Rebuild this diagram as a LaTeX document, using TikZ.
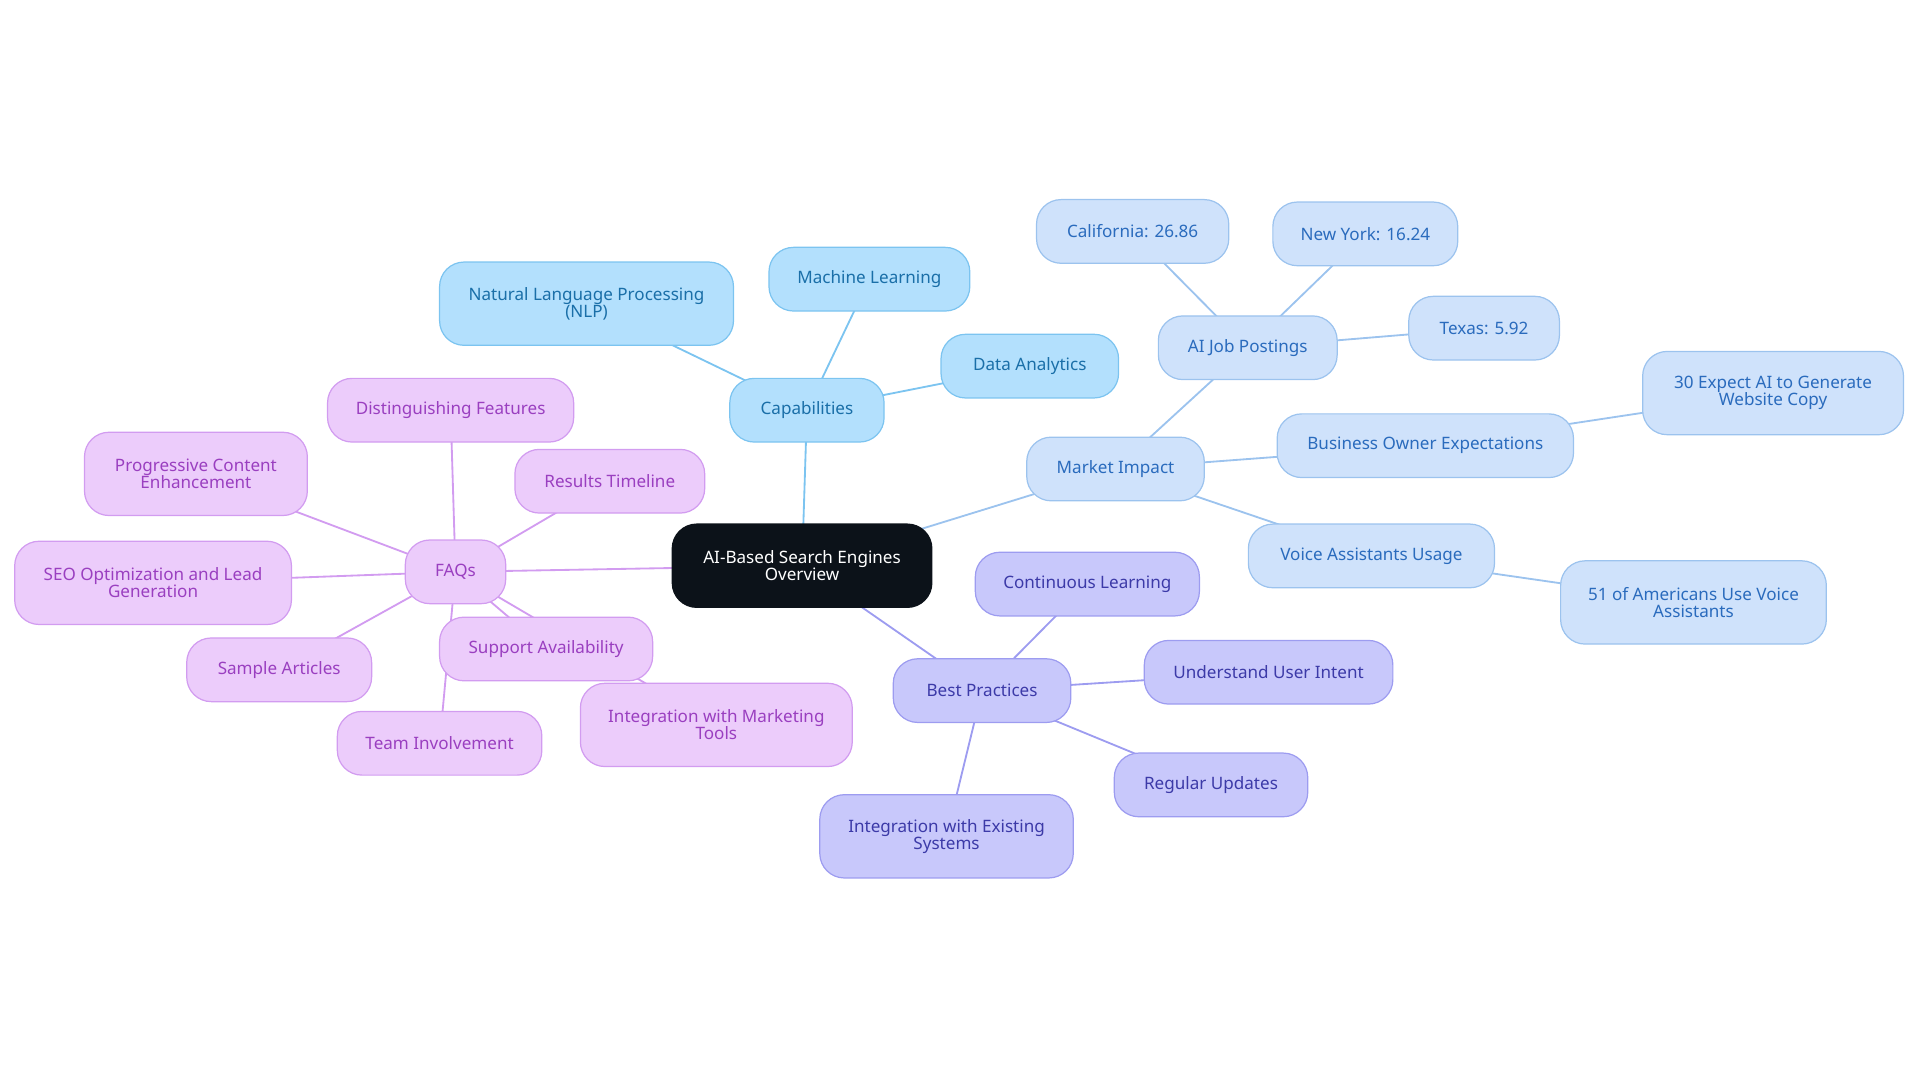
\documentclass[tikz,border=0pt]{standalone}
\usepackage{fontspec}
\setmainfont{Noto Sans}
\usetikzlibrary{backgrounds}
\definecolor{cf}{HTML}{B3E0FD}\definecolor{cs}{HTML}{7CC4F0}\definecolor{ct}{HTML}{1A6FA8}
\definecolor{mf}{HTML}{CFE2FB}\definecolor{ms}{HTML}{9CC3EE}\definecolor{mt}{HTML}{2A6BBD}
\definecolor{bf}{HTML}{C8C8FB}\definecolor{bs}{HTML}{9D9CF0}\definecolor{bt}{HTML}{3C3AA8}
\definecolor{ff}{HTML}{ECCCFB}\definecolor{fs}{HTML}{D29CF0}\definecolor{ft}{HTML}{9A3FC0}
\definecolor{dk}{HTML}{0C1219}
\tikzset{
 bx/.style={rounded corners=20bp,line width=1bp,align=center,inner sep=0pt,minimum height=52bp,font=\fontsize{14}{14}\selectfont},
 capbox/.style={bx,fill=cf,draw=cs,text=ct},
 mktbox/.style={bx,fill=mf,draw=ms,text=mt},
 bpbox/.style={bx,fill=bf,draw=bs,text=bt},
 faqbox/.style={bx,fill=ff,draw=fs,text=ft},
 tall/.style={minimum height=68bp},
 ec/.style={draw=cs,line width=1.5bp},
 em/.style={draw=ms,line width=1.5bp},
 eb/.style={draw=bs,line width=1.5bp},
 ef/.style={draw=fs,line width=1.5bp},
}
\begin{document}
\begin{tikzpicture}[x=1bp,y=-1bp]
\useasboundingbox (0,0) rectangle (1568,884);
\node[bx,tall,fill=dk,draw=dk,text=white,minimum width=212bp] (c) at (655,462) {AI-Based Search Engines\\Overview};
\node[capbox,minimum width=126bp] (cap) at (659,335) {Capabilities};
\node[capbox,tall,minimum width=240bp] (nlp) at (479,248) {Natural Language Processing\\(NLP)};
\node[capbox,minimum width=164bp] (ml) at (710,228) {Machine Learning};
\node[capbox,minimum width=145bp] (da) at (841,299) {Data Analytics};
\node[mktbox,minimum width=145bp] (mi) at (911,383) {Market Impact};
\node[mktbox,minimum width=146bp] (aj) at (1019,284) {AI Job Postings};
\node[mktbox,minimum width=157bp] (ca) at (925,189) {California: 26.86};
\node[mktbox,minimum width=151bp] (ny) at (1115,191) {New York: 16.24};
\node[mktbox,minimum width=123bp] (tx) at (1212,268) {Texas: 5.92};
\node[mktbox,minimum width=242bp] (boe) at (1164,364) {Business Owner Expectations};
\node[mktbox,tall,minimum width=213bp] (e30) at (1448,321) {30 Expect AI to Generate\\Website Copy};
\node[mktbox,minimum width=201bp] (va) at (1120,454) {Voice Assistants Usage};
\node[mktbox,tall,minimum width=217bp] (a51) at (1383,492) {51 of Americans Use Voice\\Assistants};
\node[bpbox,minimum width=145bp] (bp) at (802,564) {Best Practices};
\node[bpbox,minimum width=183bp] (cl) at (888,477) {Continuous Learning};
\node[bpbox,minimum width=203bp] (uui) at (1036,549) {Understand User Intent};
\node[bpbox,minimum width=158bp] (ru) at (989,641) {Regular Updates};
\node[bpbox,tall,minimum width=207bp] (ies) at (773,683) {Integration with Existing\\Systems};
\node[faqbox,minimum width=82bp] (fq) at (372,467) {FAQs};
\node[faqbox,minimum width=201bp] (df) at (368,335) {Distinguishing Features};
\node[faqbox,minimum width=155bp] (rt) at (498,393) {Results Timeline};
\node[faqbox,tall,minimum width=182bp] (pce) at (160,387) {Progressive Content\\Enhancement};
\node[faqbox,tall,minimum width=226bp] (seo) at (125,476) {SEO Optimization and Lead\\Generation};
\node[faqbox,minimum width=151bp] (sa) at (228,547) {Sample Articles};
\node[faqbox,minimum width=174bp] (sup) at (446,530) {Support Availability};
\node[faqbox,minimum width=167bp] (ti) at (359,607) {Team Involvement};
\node[faqbox,tall,minimum width=222bp] (imt) at (585,592) {Integration with Marketing\\Tools};
\begin{scope}[on background layer]
\draw[ec] (c.center)--(cap.center);
\foreach \n in {nlp,ml,da} \draw[ec] (cap.center)--(\n.center);
\draw[em] (c.center)--(mi.center);
\foreach \n in {aj,boe,va} \draw[em] (mi.center)--(\n.center);
\foreach \n in {ca,ny,tx} \draw[em] (aj.center)--(\n.center);
\draw[em] (boe.center)--(e30.center);
\draw[em] (va.center)--(a51.center);
\draw[eb] (c.center)--(bp.center);
\foreach \n in {cl,uui,ru,ies} \draw[eb] (bp.center)--(\n.center);
\draw[ef] (c.center)--(fq.center);
\foreach \n in {df,rt,pce,seo,sa,sup,ti,imt} \draw[ef] (fq.center)--(\n.center);
\end{scope}
\end{tikzpicture}
\end{document}
